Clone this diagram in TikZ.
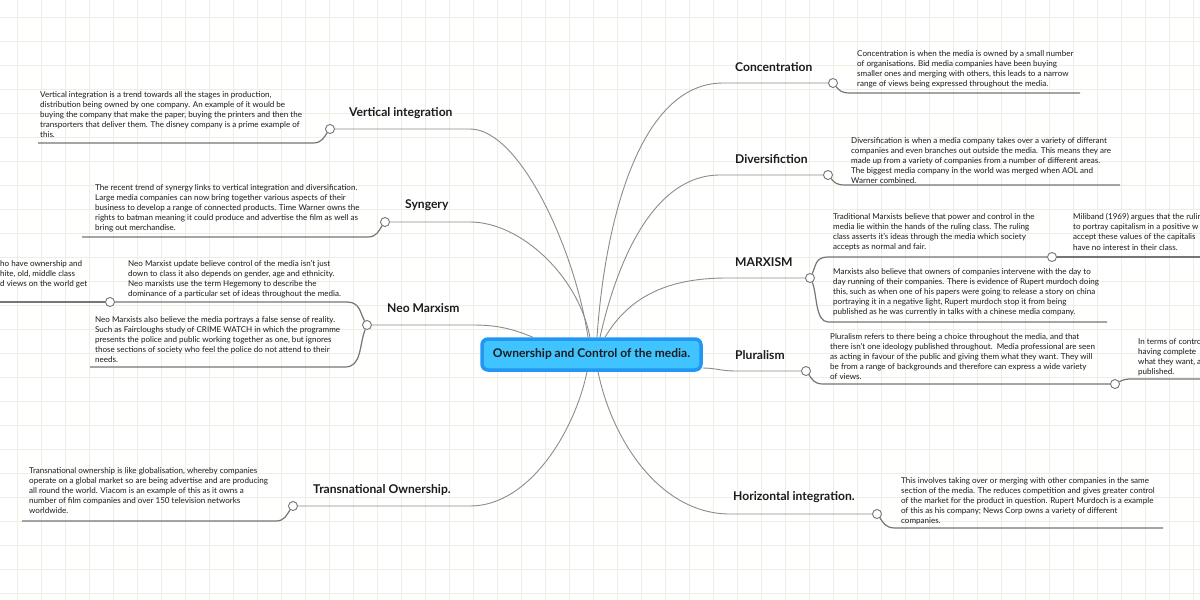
\documentclass[tikz,border=0pt]{standalone}
\usepackage{fontspec}
\setmainfont{Lato}
\definecolor{gridc}{RGB}{236,240,226}
\definecolor{linec}{RGB}{140,140,140}
\definecolor{ulinec}{RGB}{118,118,118}
\definecolor{rootfill}{RGB}{64,196,255}
\definecolor{rootdraw}{RGB}{33,150,243}
\definecolor{txt}{RGB}{28,28,28}
\begin{document}
\begin{tikzpicture}[x=1pt,y=-1pt,
  conn/.style={draw=linec, line width=0.9pt},
  uline/.style={draw=ulinec, line width=1.2pt},
  dot/.style={circle, draw=ulinec, fill=white, line width=0.9pt, minimum size=9pt, inner sep=0pt},
  topic/.style={font=\fontsize{12.1}{14}\selectfont\bfseries, anchor=west, inner sep=0pt, text=txt},
  body/.style={font=\fontsize{8.05}{10.2}\selectfont, align=left, anchor=north west, inner sep=0pt, text=txt},
  rootbox/.style={draw=rootdraw, fill=rootfill, line width=3.5pt, rounded corners=6pt,
    minimum width=219pt, minimum height=31pt, inner sep=0pt,
    font=\fontsize{12}{14}\selectfont\bfseries, text=txt}]
\useasboundingbox (0,0) rectangle (1200,600);
\clip (0,0) rectangle (1200,600);
\fill[white] (0,0) rectangle (1200,600);
\foreach \g in {17.5,41.5,...,1200} {
  \draw[gridc, line width=0.9pt] (\g,0) -- (\g,600);
}
\foreach \g in {17.5,41.5,...,600} {
  \draw[gridc, line width=0.9pt] (0,\g) -- (1200,\g);
}

% root
\node[rootbox] (root) at (591.5,354.5) {Ownership and Control of the media.};

% dots
\node[dot] (dVI) at (330,129) {};
\node[dot] (dSY) at (385,222) {};
\node[dot] (dNM) at (367,325) {};
\node[dot] (dNM2) at (110,302) {};
\node[dot] (dTR) at (293,506) {};
\node[dot] (dCO) at (833,83) {};
\node[dot] (dDI) at (828,175) {};
\node[dot] (dMA) at (810,278) {};
\node[dot] (dMA2) at (1052,257) {};
\node[dot] (dPL) at (806,371) {};
\node[dot] (dPL2) at (1115,384) {};
\node[dot] (dHO) at (877,514) {};

% knees
\coordinate (kVI) at (470,129);
\coordinate (kSY) at (470,222);
\coordinate (kNM) at (473,325);
\coordinate (kTR) at (470,506);
\coordinate (kCO) at (723,83);
\coordinate (kDI) at (720,175);
\coordinate (kMA) at (727,278);
\coordinate (kPL) at (735,371);
\coordinate (kHO) at (730,514);

% main connectors
\draw[conn] ([xshift=-3.5pt]root.north) .. controls (575,250) and (520,129) .. (kVI) -- (dVI);
\draw[conn] ([xshift=-1.5pt]root.north) .. controls (578,275) and (520,222) .. (kSY) -- (dSY);
\draw[conn] ([xshift=-58.5pt]root.north) .. controls (515,330) and (500,325) .. (kNM) -- (dNM);
\draw[conn] ([xshift=-4.5pt]root.south) .. controls (575,430) and (530,506) .. (kTR) -- (dTR);
\draw[conn] ([xshift=6.5pt]root.south) .. controls (612,440) and (660,514) .. (kHO) -- (dHO);
\draw[conn] ([xshift=5.5pt]root.north) .. controls (605,220) and (640,83) .. (kCO) -- (dCO);
\draw[conn] ([xshift=8.5pt]root.north) .. controls (615,270) and (650,175) .. (kDI) -- (dDI);
\draw[conn] ([xshift=13.5pt]root.north) .. controls (630,295) and (670,278) .. (kMA) -- (dMA);
\draw[conn] ([yshift=-13.5pt]root.east) .. controls (715,368) and (722,371) .. (kPL) -- (dPL);

% free ends of underlines
\coordinate (eVI) at (38,143);
\coordinate (eSY) at (82,237);
\coordinate (eNM2) at (-5,302);
\coordinate (eNMb) at (90,367);
\coordinate (eTR) at (22,521);
\coordinate (eCO) at (1080,93);
\coordinate (eDI) at (1120,185);
\coordinate (eMA2) at (1205,257);
\coordinate (eMAb) at (1107,322);
\coordinate (ePL2) at (1205,379);
\coordinate (eHO) at (1163,528);

% underlines
\draw[uline] (dVI) .. controls (324,137) and (322,143) .. (313,143) -- (eVI);
\draw[uline] (dSY) .. controls (379,230) and (377,237) .. (368,237) -- (eSY);
\draw[uline] (dNM) .. controls (360,313) and (360,302) .. (347,302) -- (dNM2);
\draw[uline] (dNM2) -- (eNM2);
\draw[uline] (dNM) .. controls (359,345) and (362,367) .. (345,367) -- (eNMb);
\draw[uline] (dTR) .. controls (287,514) and (285,521) .. (276,521) -- (eTR);
\draw[uline] (dCO) .. controls (839,90) and (841,93) .. (850,93) -- (eCO);
\draw[uline] (dDI) .. controls (834,182) and (836,185) .. (845,185) -- (eDI);
\draw[uline] (dMA) .. controls (816,266) and (815,257) .. (828,257) -- (dMA2);
\draw[uline] (dMA2) -- (eMA2);
\draw[uline] (dMA) .. controls (817,292) and (815,322) .. (828,322) -- (eMAb);
\draw[uline] (dPL) .. controls (812,379) and (814,384) .. (823,384) -- (dPL2);
\draw[uline] (dPL2) .. controls (1121,381) and (1123,379) .. (1131,379) -- (ePL2);
\draw[uline] (dHO) .. controls (883,522) and (885,528) .. (895,528) -- (eHO);

% topic labels
\node[topic] (tVI) at (349,113) {Vertical integration};
\node[topic] (tSY) at (405,205) {Syngery};
\node[topic] (tNM) at (387,308) {Neo Marxism};
\node[topic] (tTR) at (313,490) {Transnational Ownership.};
\node[topic] (tCO) at (735,67) {Concentration};
\node[topic] (tDI) at (735,159) {Diversifiction};
\node[topic] (tMA) at (735,262) {MARXISM};
\node[topic] (tPL) at (735,355) {Pluralism};
\node[topic] (tHO) at (733,497) {Horizontal integration.};

% body texts
\node[body] (xVI) at (40,91) {Vertical integration is a trend towards all the stages in production,\\
distribution being owned by one company. An example of it would be\\
buying the company that make the paper, buying the printers and then the\\
transporters that deliver them. The disney company is a prime example of\\
this.};
\node[body] (xSY) at (95,184) {The recent trend of synergy links to vertical integration and diversification.\\
Large media companies can now bring together various aspects of their\\
business to develop a range of connected products. Time Warner owns the\\
rights to batman meaning it could produce and advertise the film as well as\\
bring out merchandise.};
\node[body] (xNMc) at (0,260) {ho have ownership and\\
hite, old, middle class\\
d views on the world get};
\node[body] (xNMa) at (128,260) {Neo Marxist update believe control of the media isn't just\\
down to class it also depends on gender, age and ethnicity.\\
Neo marxists use the term Hegemony to describe the\\
dominance of a particular set of ideas throughout the media.};
\node[body] (xNMb) at (95,316) {Neo Marxists also believe the media portrays a false sense of reality.\\
Such as Faircloughs study of CRIME WATCH in which the programme\\
presents the police and public working together as one, but ignores\\
those sections of society who feel the police do not attend to their\\
needs.};
\node[body] (xTR) at (29,467) {Transnational ownership is like globalisation, whereby companies\\
operate on a global market so are being advertise and are producing\\
all round the world. Viacom is an example of this as it owns a\\
number of film companies and over 150 television networks\\
worldwide.};
\node[body] (xCO) at (857,50) {Concentration is when the media is owned by a small number\\
of organisations. Bid media companies have been buying\\
smaller ones and merging with others, this leads to a narrow\\
range of views being expressed throughout the media.};
\node[body] (xDI) at (851,137) {Diversification is when a media company takes over a variety of differant\\
companies and even branches out outside the media. This means they are\\
made up from a variety of companies from a number of different areas.\\
The biggest media company in the world was merged when AOL and\\
Warner combined.};
\node[body] (xMAa) at (833,213) {Traditional Marxists believe that power and control in the\\
media lie within the hands of the ruling class. The ruling\\
class asserts it's ideas through the media which society\\
accepts as normal and fair.};
\node[body] (xMAc) at (1073,213) {Miliband (1969) argues that the rulin\\
to portray capitalism in a positive w\\
accept these values of the capitalis\\
have no interest in their class.};
\node[body] (xMAb) at (833,268) {Marxists also believe that owners of companies intervene with the day to\\
day running of their companies. There is evidence of Rupert murdoch doing\\
this, such as when one of his papers were going to release a story on china\\
portraying it in a negative light, Rupert murdoch stop it from being\\
published as he was currently in talks with a chinese media company.};
\node[body] (xPL) at (830,333) {Pluralism refers to there being a choice throughout the media, and that\\
there isn't one ideology published throughout.\ \ Media professional are seen\\
as acting in favour of the public and giving them what they want. They will\\
be from a range of backgrounds and therefore can express a wide variety\\
of views.};
\node[body] (xPLc) at (1138,338) {In terms of contro\\
having complete\\
what they want, a\\
published.};
\node[body] (xHO) at (901,477) {This involves taking over or merging with other companies in the same\\
section of the media. The reduces competition and gives greater control\\
of the market for the product in question. Rupert Murdoch is a example\\
of this as his company; News Corp owns a variety of different\\
companies.};
\end{tikzpicture}
\end{document}
